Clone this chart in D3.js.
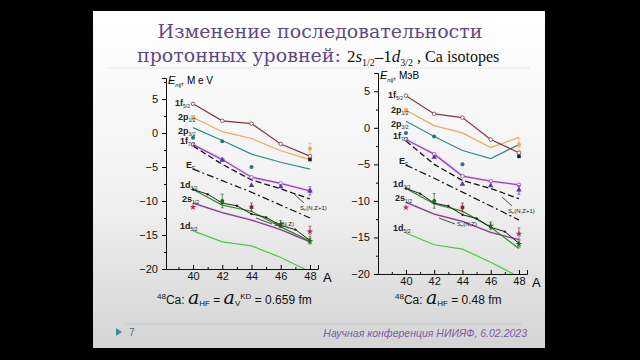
<!DOCTYPE html>
<html lang="ru">
<head>
<meta charset="UTF-8">
<title>Ca isotopes</title>
<style>
  body { margin: 0; background: #000; }
  svg { font-family: "Liberation Sans", Arial, sans-serif; }
  .tick text { font-size: 11px; fill: #111; font-family: "Liberation Sans", Arial, sans-serif; }
  .lbl { font-weight: bold; fill: #222; }
  .sub { font-size: 5px; font-weight: normal; }
  .serif { font-family: "DejaVu Serif", serif; }
</style>
</head>
<body>
<div id="chart"></div>
<script src="https://d3js.org/d3.v7.min.js"></script>
<script>
// isotope mass numbers
const A = [40, 42, 44, 46, 48];
const Aall = [40, 41, 42, 43, 44, 45, 46, 47, 48];

// left panel (a_HF = a_V^KD = 0.659 fm)
const L_f52 = [4.3, 1.8, 1.4, -1.6, -3.4];
const L_p12 = [2.3, 0.2, -0.8, -2.6, -3.9];
const L_p32 = [0.8, -1.1, -3.1, -4.3, -5.3];
const L_f72 = [-1.7, -3.9, -6.5, -7.4, -8.5];
const L_d32 = [-8.3, -10.6, -11.5, -13.8, -15.9];
const L_s12 = [-10.3, -11.7, -12.8, -14.2, -16.0];
const L_d52 = [-14.4, -16.0, -16.6, -18.3, -20.4];
const L_ef = [-5.3, -7.0, -8.7, -10.6, -12.5];
const L_snz1 = [-1.9, -4.6, -6.9, -8.2, -9.7];

// right panel (a_HF = 0.48 fm)
const R_f52 = [4.4, 1.9, 1.4, -1.6, -3.4];
const R_p12 = [2.4, 0.3, -0.7, -2.7, -1.3];
const R_p32 = [0.9, -1.2, -3.1, -4.2, -2.3];
const R_f72 = [-1.6, -3.6, -6.6, -7.3, -7.8];
const R_d32 = [-8.3, -10.4, -11.4, -13.6, -16.5];
const R_s12 = [-10.2, -11.8, -12.8, -14.3, -15.3];
const R_d52 = [-14.4, -16.0, -16.6, -18.4, -20.4];
const R_ef = [-5.1, -6.9, -8.8, -10.7, -12.6];
const R_snz1 = [-1.8, -5.0, -7.2, -8.3, -9.7];

// proton separation energies S_p(N,Z), every isotope
const snz = [-8.3, -9.0, -10.3, -10.7, -11.9, -12.4, -13.6, -14.2, -15.8];

// experimental points [A, E, err]
const expP32 = [[40, -0.7, 0], [42, -1.2, 0], [44, -5.0, 0]];
const expF72 = [[42, -4.0, 0], [44, -7.7, 0], [46, -7.9, 0], [48, -8.5, 0.6]];
const expP12 = [[48, -2.3, 0.8]];
const expF52 = [[48, -3.9, 0]];
const expD32 = [[42, -10.0, 1.0], [44, -10.9, 0.6], [46, -13.4, 0.5], [48, -15.9, 0.4]];
const expS12 = [[40, -10.9, 0], [48, -14.5, 0.8]];

const yTicks = [5, 0, -5, -10, -15, -20];
const xTicks = [40, 42, 44, 46, 48];

const svg = d3.select("#chart").append("svg").attr("width", 640).attr("height", 360);

const defs = svg.append("defs");
const grad = defs.append("linearGradient").attr("id", "bg").attr("x1", 0).attr("x2", 0).attr("y1", 0).attr("y2", 1);
grad.append("stop").attr("offset", "0%").attr("stop-color", "#ffffff");
grad.append("stop").attr("offset", "55%").attr("stop-color", "#f1f1f1");
grad.append("stop").attr("offset", "100%").attr("stop-color", "#d4d4d4");

svg.append("rect").attr("width", 640).attr("height", 360).attr("fill", "#000");
svg.append("rect").attr("x", 93).attr("y", 11).attr("width", 452).attr("height", 337).attr("fill", "url(#bg)");

// title
svg.append("text").attr("class", "serif").attr("x", 320).attr("y", 38).attr("text-anchor", "middle")
  .attr("font-size", 19).attr("fill", "#5e4a86").text("Изменение последовательности");
const t2 = svg.append("text").attr("class", "serif").attr("x", 137).attr("y", 62).attr("font-size", 19).attr("fill", "#5e4a86");
t2.append("tspan").text("протонных уровней: ");
const mathFont = "'Liberation Serif', serif";
[["2", 0, false, 17], ["s", 0, true, 17], ["1/2", 4, false, 10], ["–1", -4, false, 17],
 ["d", 0, true, 17], ["3/2", 4, false, 10], ["  , Ca isotopes", -4, false, 16]].forEach(([s, dy, it, fs]) => {
  t2.append("tspan").attr("fill", "#111").attr("font-size", fs).attr("dy", dy || null)
    .attr("font-style", it ? "italic" : null).attr("font-family", mathFont).text(s);
});

svg.append("line").attr("x1", 108).attr("x2", 530).attr("y1", 68).attr("y2", 68)
  .attr("stroke", "#d6d6d6").attr("stroke-dasharray", "1,1");

function label(g, x, y, main, sub) {
  const t = g.append("text").attr("x", x).attr("y", y).attr("class", "lbl").attr("font-size", 9);
  t.append("tspan").text(main);
  t.append("tspan").attr("class", "sub").attr("dy", 2).text(sub);
  return t;
}

function panel(cfg) {
  const g = svg.append("g");
  const x = d3.scaleLinear().domain(cfg.xd).range(cfg.xr);
  const y = d3.scaleLinear().domain(cfg.yd).range(cfg.yr);
  const clipId = "clip" + cfg.id;
  defs.append("clipPath").attr("id", clipId).append("rect")
    .attr("x", cfg.xr[0]).attr("y", cfg.yr[1]).attr("width", cfg.xr[1] - cfg.xr[0]).attr("height", cfg.yr[0] - cfg.yr[1]);

  // axes
  const yAx = d3.axisLeft(y).tickValues(yTicks).tickSize(4).tickFormat(d3.format("d"));
  g.append("g").attr("transform", `translate(${cfg.xr[0]},0)`).call(yAx)
    .call(a => a.select(".domain").attr("stroke", "#111"))
    .call(a => a.selectAll(".tick text").attr("x", -8));
  g.append("g").attr("transform", `translate(${cfg.xr[0]},0)`)
    .call(d3.axisLeft(y).tickValues(d3.range(-17.5, 8, 5)).tickSize(2).tickFormat(""))
    .call(a => a.select(".domain").remove());
  const xAx = d3.axisBottom(x).tickValues(xTicks).tickSize(-4).tickFormat(d3.format("d"));
  g.append("g").attr("transform", `translate(0,${cfg.yr[0]})`).call(xAx)
    .call(a => a.select(".domain").attr("stroke", "#111"))
    .call(a => a.selectAll(".tick text").attr("y", 3));
  g.append("g").attr("transform", `translate(0,${cfg.yr[0]})`)
    .call(d3.axisBottom(x).tickValues([39, 41, 43, 45, 47]).tickSize(-2).tickFormat(""))
    .call(a => a.select(".domain").remove());
  g.append("text").attr("x", cfg.xr[1] + 5).attr("y", cfg.yr[0] + 13).attr("font-size", 13).text("A");

  // y title
  const yt = g.append("text").attr("x", cfg.xr[0] + 2).attr("y", cfg.yr[1] + cfg.ytOff).attr("font-size", 11);
  yt.append("tspan").attr("font-style", "italic").text("E");
  yt.append("tspan").attr("font-size", 6).attr("font-style", "italic").attr("dy", 3).text("nlj");
  yt.append("tspan").attr("dy", -3).attr("font-size", 10).text(", " + cfg.unit);

  const p = g.append("g").attr("clip-path", `url(#${clipId})`);
  const line = d3.line().x((d, i) => x(A[i])).y(d => y(d));
  const lineAll = d3.line().x((d, i) => x(Aall[i])).y(d => y(d));

  function curve(data, color, width, dash) {
    p.append("path").attr("d", line(data)).attr("fill", "none").attr("stroke", color)
      .attr("stroke-width", width).attr("stroke-dasharray", dash || null);
  }
  // soft halo under the purple lines
  curve(cfg.f72, "#f0dcf4", 3);
  curve(cfg.s12, "#e6e0ea", 3);
  curve(cfg.d52, "#44cc3c", 1.2);
  curve(cfg.s12, "#8a3c8c", 1.3);
  curve(cfg.d32, "#2f8f2f", 1.2);
  p.append("path").attr("d", lineAll(snz)).attr("fill", "none").attr("stroke", "#222").attr("stroke-width", 1);
  p.selectAll(".snd").data(snz).join("circle").attr("cx", (d, i) => x(Aall[i])).attr("cy", d => y(d))
    .attr("r", 1.2).attr("fill", "#222");
  curve(cfg.ef, "#111", 1.2, "7,3,2,3");
  curve(cfg.snz1, "#111", 1.3, "6,3");
  curve(cfg.f72, "#9a3fc8", 1.3);
  curve(cfg.p32, "#2b8d8f", 1.2);
  curve(cfg.p12, "#f2a65a", 1.2);
  curve(cfg.f52, "#823a40", 1.2);

  // open markers on lines
  [[cfg.f52, "#823a40"], [cfg.f72, "#9a3fc8"]].forEach(([data, c]) => {
    p.selectAll(null).data(data).join("circle").attr("cx", (d, i) => x(A[i])).attr("cy", d => y(d))
      .attr("r", 1.8).attr("fill", "#fff").attr("stroke", c).attr("stroke-width", 0.8);
  });
  p.append("rect").attr("x", x(40) - 2).attr("y", y(cfg.p12[0]) - 2).attr("width", 4).attr("height", 4).attr("fill", "#f2a65a");

  // experimental data
  function exp(data, color, shape) {
    data.forEach(([a, e, err]) => {
      if (err) {
        p.append("line").attr("x1", x(a)).attr("x2", x(a)).attr("y1", y(e + err)).attr("y2", y(e - err))
          .attr("stroke", color).attr("stroke-width", 0.7);
        [e + err, e - err].forEach(v => p.append("line").attr("x1", x(a) - 1.5).attr("x2", x(a) + 1.5)
          .attr("y1", y(v)).attr("y2", y(v)).attr("stroke", color).attr("stroke-width", 0.7));
      }
      p.append("path").attr("transform", `translate(${x(a)},${y(e)})`)
        .attr("d", d3.symbol().type(shape).size(13)()).attr("fill", color);
    });
  }
  exp(expP32, "#1d7a7c", d3.symbolCircle);
  exp(expF72, "#5a34a8", d3.symbolTriangle);
  exp(expP12, "#f2a65a", d3.symbolCircle);
  exp(expF52, "#222", d3.symbolSquare);
  exp(expD32.slice(0, 1), "#1f6a1f", d3.symbolCircle);
  exp(expD32.slice(1, 2), "#7a2a2a", d3.symbolSquare);
  exp(expD32.slice(2), "#1f6a1f", d3.symbolStar);
  exp(expS12, "#a0305a", d3.symbolStar);

  // level labels
  const lx = x(40);
  label(g, lx - 18, y(cfg.f52[0]) + 2, "1f", "5/2");
  label(g, lx - 15, y(cfg.p12[0]) + 3, "2p", "1/2");
  label(g, lx - 15, y(cfg.p32[0]) + 6, "2p", "3/2");
  label(g, lx - 13, y(cfg.f72[0]) - 1, "1f", "7/2");
  label(g, lx - 7, y(cfg.ef[0]) - 1, "E", "F");
  label(g, lx - 13, y(cfg.d32[0]) - 1, "1d", "3/2");
  label(g, lx - 11, y(cfg.s12[0]) - 1, "2s", "1/2");
  label(g, lx - 13, y(cfg.d52[0]) - 2, "1d", "5/2");

  // separation energy captions
  const s1 = g.append("text").attr("x", cfg.sn1[0]).attr("y", cfg.sn1[1]).attr("font-size", 6).attr("fill", "#222");
  s1.append("tspan").text("S"); s1.append("tspan").attr("font-size", 4).attr("dy", 1).text("n");
  s1.append("tspan").attr("dy", -1).text("(N,Z+1)");
  const s2 = g.append("text").attr("x", cfg.sn2[0]).attr("y", cfg.sn2[1]).attr("font-size", 6).attr("fill", "#222");
  s2.append("tspan").text("S"); s2.append("tspan").attr("font-size", 4).attr("dy", 1).text("n");
  s2.append("tspan").attr("dy", -1).text("(N,Z)");
  g.append("line").attr("x1", cfg.sn1[0] + 4).attr("y1", cfg.sn1[1] - 7)
    .attr("x2", cfg.sn1[0] - 6).attr("y2", cfg.sn1[1] - 16).attr("stroke", "#222").attr("stroke-width", 0.8);
  g.append("line").attr("x1", cfg.sn2[0] - 2).attr("y1", cfg.sn2[1] - 2)
    .attr("x2", cfg.sn2[0] - 18).attr("y2", cfg.sn2[1] - 8).attr("stroke", "#222").attr("stroke-width", 0.8);
  return g;
}

panel({ id: "L", xd: [38.15, 48.55], xr: [166, 318], yd: [-20, 8.1], yr: [269, 78], unit: "M e V", ytOff: 6,
  f52: L_f52, p12: L_p12, p32: L_p32, f72: L_f72, d32: L_d32, s12: L_s12, d52: L_d52, ef: L_ef, snz1: L_snz1,
  sn1: [300, 210], sn2: [274, 226] });
panel({ id: "R", xd: [38.02, 48.57], xr: [378, 527], yd: [-20, 7.5], yr: [274, 73], unit: "МэВ", ytOff: 6,
  f52: R_f52, p12: R_p12, p32: R_p32, f72: R_f72, d32: R_d32, s12: R_s12, d52: R_d52, ef: R_ef, snz1: R_snz1,
  sn1: [508, 213], sn2: [457, 226] });

// captions
function caption(x0, parts) {
  const t = svg.append("text").attr("x", x0).attr("y", 304).attr("font-size", 12).attr("fill", "#111");
  parts.forEach(([s, opt]) => {
    const ts = t.append("tspan").text(s);
    if (opt) Object.entries(opt).forEach(([k, v]) => ts.attr(k, v));
  });
}
const aStyle = { "font-size": 19, "font-style": "italic", "font-family": "'DejaVu Serif', serif" };
caption(157, [["48", { "font-size": 8, dy: -5 }], ["Ca: ", { dy: 5 }], ["a", aStyle],
  ["HF", { "font-size": 8, dy: 2 }], [" = ", { dy: -2 }], ["a", aStyle],
  ["V", { "font-size": 8, dy: 2 }], ["KD", { "font-size": 8, dy: -7 }], [" = 0.659 fm", { dy: 5 }]]);
caption(395, [["48", { "font-size": 8, dy: -5 }], ["Ca: ", { dy: 5 }], ["a", aStyle],
  ["HF", { "font-size": 8, dy: 2 }], [" = 0.48 fm", { dy: -2 }]]);

// footer
svg.append("line").attr("x1", 124).attr("x2", 522).attr("y1", 324).attr("y2", 324)
  .attr("stroke", "#bdbdbd").attr("stroke-dasharray", "1,1");
svg.append("path").attr("d", "M116,328 L122,332 L116,336 Z").attr("fill", "#3d8c9c");
svg.append("text").attr("x", 129).attr("y", 336).attr("font-size", 10).attr("fill", "#4a6a90").text("7");
svg.append("text").attr("x", 527).attr("y", 337).attr("text-anchor", "end").attr("font-size", 10.5)
  .attr("font-style", "italic").attr("fill", "#7d5ba6").text("Научная конференция НИИЯФ, 6.02.2023");
</script>
</body>
</html>
